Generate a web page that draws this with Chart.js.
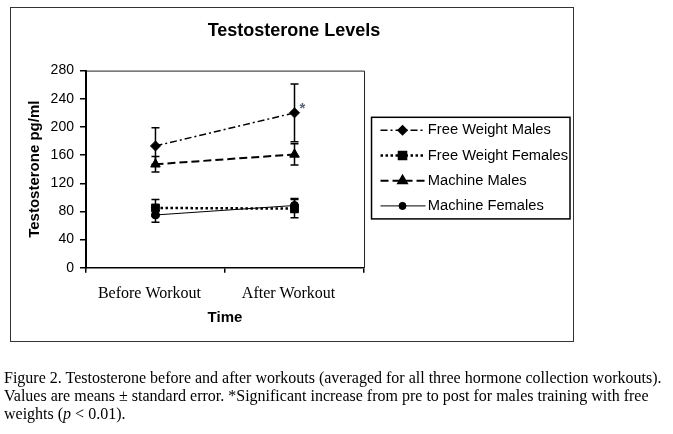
<!DOCTYPE html>
<html><head><meta charset="utf-8">
<script src="https://cdn.jsdelivr.net/npm/chart.js@4"></script>
<style>
html,body{margin:0;padding:0;background:#fff;}
#wrap{position:relative;width:673px;height:434px;overflow:hidden;}
#c{position:absolute;left:0;top:0;}
#frame{position:absolute;left:10px;top:7px;width:562px;height:333px;border:1.5px solid #333;pointer-events:none;}
#cap{position:absolute;left:4px;top:369px;font-family:"Liberation Serif","Times New Roman",serif;font-size:16px;line-height:18px;white-space:nowrap;color:#000;}
</style></head><body>
<div id="wrap">
<canvas id="c" width="673" height="434"></canvas>
<div id="frame"></div>
<div id="cap">Figure 2. Testosterone before and after workouts (averaged for all three hormone collection workouts).<br>Values are means ± standard error. *Significant increase from pre to post for males training with free<br>weights (<i>p</i> &lt; 0.01).</div>
</div>
<script>
const categories = ['Before Workout', 'After Workout'];
const seriesNames = ['Free Weight Males', 'Free Weight Females', 'Machine Males', 'Machine Females'];
const fwMales = [173, 220];
const fwMalesErr = [26, 41];
const fwFemales = [85, 84];
const fwFemalesErr = [12, 13];
const mMales = [147, 161];
const mMalesErr = [11, 15];
const mFemales = [75, 88.5];
const mFemalesErr = [10.5, 10];
const yMin = 0, yMax = 280, yStep = 40;
const significance = [{series: 0, index: 1, text: '*'}];

const SANS = '"Liberation Sans", Arial, sans-serif';
const SERIF = '"Liberation Serif", "Times New Roman", serif';

const styles = [
  {dash: [7, 3, 2, 3], width: 1.5, point: 'rectRot', r: 5},
  {dash: [2.5, 2.5], width: 2.5, point: 'rect', r: 5.5},
  {dash: [8, 4], width: 2, point: 'triangle', r: 5.5},
  {dash: [], width: 1, point: 'circle', r: 4}
];
const values = [fwMales, fwFemales, mMales, mFemales];
const errors = [fwMalesErr, fwFemalesErr, mMalesErr, mFemalesErr];

const datasets = seriesNames.map((name, i) => ({
  label: name,
  data: values[i],
  errors: errors[i],
  borderColor: '#000',
  backgroundColor: '#000',
  borderWidth: styles[i].width,
  borderDash: styles[i].dash,
  pointStyle: styles[i].point,
  pointRadius: styles[i].r,
  pointBackgroundColor: '#000',
  pointBorderColor: '#000',
  pointBorderWidth: 1,
  tension: 0,
  fill: false
}));

const plotFrame = {
  id: 'plotFrame',
  beforeDatasetsDraw(chart) {
    const {ctx, chartArea: a} = chart;
    ctx.save();
    ctx.strokeStyle = '#222';
    ctx.lineWidth = 1;
    ctx.beginPath();
    ctx.moveTo(a.left, a.top + 0.5);
    ctx.lineTo(a.right + 0.5, a.top + 0.5);
    ctx.lineTo(a.right + 0.5, a.bottom);
    ctx.stroke();
    ctx.restore();
  }
};

const errorBars = {
  id: 'errorBars',
  afterDatasetsDraw(chart) {
    const {ctx} = chart;
    const ys = chart.scales.y;
    ctx.save();
    ctx.strokeStyle = '#000';
    ctx.lineWidth = 1.5;
    ctx.setLineDash([]);
    chart.data.datasets.forEach((ds, di) => {
      const meta = chart.getDatasetMeta(di);
      meta.data.forEach((pt, j) => {
        const v = ds.data[j], e = ds.errors[j];
        const x = pt.x;
        const yt = ys.getPixelForValue(v + e);
        const yb = ys.getPixelForValue(v - e);
        ctx.beginPath();
        ctx.moveTo(x, yt); ctx.lineTo(x, yb);
        ctx.moveTo(x - 4, yt); ctx.lineTo(x + 4, yt);
        ctx.moveTo(x - 4, yb); ctx.lineTo(x + 4, yb);
        ctx.stroke();
      });
    });
    ctx.fillStyle = '#5a6478';
    ctx.font = 'bold 15px ' + SANS;
    ctx.textAlign = 'left';
    ctx.textBaseline = 'middle';
    significance.forEach(s => {
      const pt = chart.getDatasetMeta(s.series).data[s.index];
      ctx.fillText(s.text, pt.x + 5, pt.y - 4);
    });
    ctx.restore();
  }
};

const legendSamples = {
  id: 'legendSamples',
  afterDraw(chart) {
    const lg = chart.legend;
    if (!lg || !lg.legendHitBoxes) return;
    const {ctx} = chart;
    const hb = lg.legendHitBoxes;
    ctx.save();
    hb.forEach((b, i) => {
      const ds = chart.data.datasets[i];
      const cy = b.top + b.height / 2;
      ctx.strokeStyle = '#000';
      ctx.lineWidth = ds.borderWidth;
      ctx.setLineDash(ds.borderDash);
      ctx.beginPath();
      ctx.moveTo(b.left + 6, cy);
      ctx.lineTo(b.left + 51, cy);
      ctx.stroke();
      ctx.setLineDash([]);
      Chart.helpers.drawPoint(ctx, {
        pointStyle: ds.pointStyle, radius: ds.pointRadius - 0.5, borderWidth: 1, rotation: 0
      }, b.left + 28, cy);
      ctx.fillStyle = '#000';
      ctx.fill();
    });
    const first = hb[0], last = hb[hb.length - 1];
    let maxR = 0;
    hb.forEach(b => { maxR = Math.max(maxR, b.left + b.width); });
    const x0 = first.left - 3, y0 = first.top + first.height / 2 - 13;
    const x1 = maxR + 2, y1 = last.top + last.height / 2 + 13;
    ctx.strokeStyle = '#000';
    ctx.lineWidth = 1.5;
    ctx.strokeRect(x0, y0, x1 - x0, y1 - y0);
    ctx.restore();
  }
};

new Chart(document.getElementById('c'), {
  type: 'line',
  data: {labels: categories, datasets},
  options: {
    responsive: false,
    animation: false,
    devicePixelRatio: 1,
    layout: {padding: {left: 10, right: 95, top: 7, bottom: 97}},
    plugins: {
      title: {
        display: true,
        text: 'Testosterone Levels',
        color: '#000',
        font: {family: SANS, size: 18, weight: 'bold'},
        padding: {top: 13, bottom: 29}
      },
      legend: {
        display: true,
        position: 'right',
        align: 'center',
        maxWidth: 240,
        title: {display: true, text: ' ', font: {size: 1}, padding: {top: -9, bottom: 0}},
        labels: {
          boxWidth: 46,
          boxHeight: 14,
          padding: 10.5,
          color: '#000',
          font: {family: SANS, size: 14.7},
          generateLabels(chart) {
            return chart.data.datasets.map((ds, i) => ({
              text: ds.label,
              fillStyle: 'rgba(0,0,0,0)',
              strokeStyle: 'rgba(0,0,0,0)',
              lineWidth: 0,
              hidden: false,
              datasetIndex: i,
              fontColor: '#000'
            }));
          }
        }
      },
      tooltip: {enabled: false}
    },
    scales: {
      x: {
        type: 'category',
        offset: true,
        border: {color: '#000', width: 1.5},
        grid: {offset: true, drawOnChartArea: false, drawTicks: true, tickLength: 5, color: '#000', lineWidth: 1.5},
        ticks: {color: '#000', padding: 11, labelOffset: -6, font: {family: SERIF, size: 16}, maxRotation: 0},
        title: {display: true, text: 'Time', color: '#000', font: {family: SANS, size: 15, weight: 'bold'}, padding: {top: -5, bottom: 10}}
      },
      y: {
        min: yMin, max: yMax,
        border: {color: '#000', width: 2},
        grid: {drawOnChartArea: false, drawTicks: true, tickLength: 6, color: '#000', lineWidth: 1.5},
        ticks: {stepSize: yStep, color: '#000', padding: 6, font: {family: SANS, size: 14}},
        title: {display: true, text: 'Testosterone pg/ml', color: '#000', font: {family: SANS, size: 15, weight: 'bold'}, padding: {top: 16, bottom: 0.6}}
      }
    }
  },
  plugins: [plotFrame, errorBars, legendSamples]
});
</script>
</body></html>
